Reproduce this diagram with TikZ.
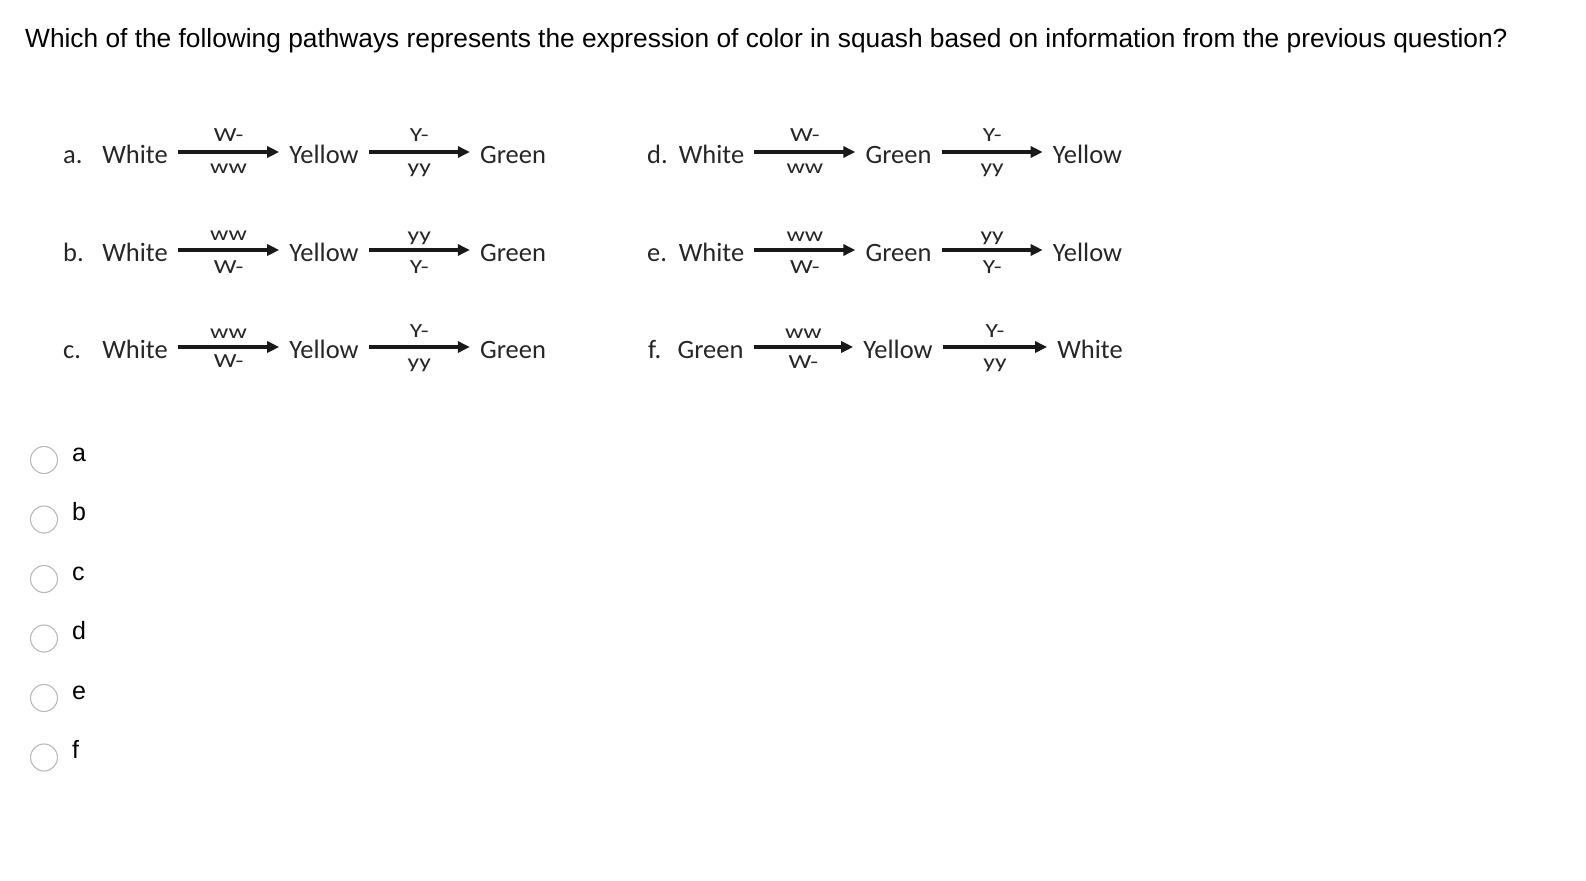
\documentclass[tikz,border=0pt]{standalone}
\usepackage{fontspec}
\setmainfont{Liberation Sans}
\newfontfamily\calfont{Carlito}
\usetikzlibrary{arrows.meta}
\tikzset{
  word/.style={font=\calfont\fontsize{26.5}{30}\selectfont, text=black!85, anchor=base,
    inner xsep=10pt, inner ysep=0pt, text height=22pt, text depth=0pt},
  rowlab/.style={font=\calfont\fontsize{26.5}{30}\selectfont, text=black!85, anchor=base west, inner sep=0pt},
  lab/.style={font=\calfont\fontsize{20}{22}\selectfont, text=black!85, anchor=base, inner sep=0pt},
  arr/.style={line width=3.4pt, black!90, -{Triangle[length=12pt,width=11pt]}},
  radio/.style={circle, draw=gray!55, line width=1.1pt, fill=white, minimum size=27pt, inner sep=0pt},
  opt/.style={font=\fontsize{25}{28}\selectfont, anchor=base west, inner sep=0pt},
  title/.style={font=\fontsize{26.3}{30}\selectfont, anchor=base west, inner sep=0pt}
}
\newcommand{\lb}[1]{\scalebox{1.28}[1]{#1}}
\begin{document}
\begin{tikzpicture}[x=1pt,y=-1pt]
\useasboundingbox (0,0) rectangle (1586,880);
\node[title] (q) at (25,48) {Which of the following pathways represents the expression of color in squash based on information from the previous question?};

% row a
\node[rowlab] (la) at (63,163) {a.};
\node[word] (a1) at (135,163) {White};
\node[word] (a2) at (324,163) {Yellow};
\node[word] (a3) at (513,163) {Green};
\draw[arr] (a1) -- node[lab,yshift=10pt]{\lb{W-}} node[lab,yshift=-21pt]{\lb{ww}} (a2);
\draw[arr] (a2) -- node[lab,yshift=10pt]{\lb{Y-}} node[lab,yshift=-21pt]{\lb{yy}} (a3);

% row b
\node[rowlab] (lb) at (63,261) {b.};
\node[word] (b1) at (135,261) {White};
\node[word] (b2) at (324,261) {Yellow};
\node[word] (b3) at (513,261) {Green};
\draw[arr] (b1) -- node[lab,yshift=10pt]{\lb{ww}} node[lab,yshift=-23pt]{\lb{W-}} (b2);
\draw[arr] (b2) -- node[lab,yshift=8.5pt]{\lb{yy}} node[lab,yshift=-23pt]{\lb{Y-}} (b3);

% row c
\node[rowlab] (lc) at (63,358) {c.};
\node[word] (c1) at (135,358) {White};
\node[word] (c2) at (324,358) {Yellow};
\node[word] (c3) at (513,358) {Green};
\draw[arr] (c1) -- node[lab,yshift=9pt]{\lb{ww}} node[lab,yshift=-20pt]{\lb{W-}} (c2);
\draw[arr] (c2) -- node[lab,yshift=10pt]{\lb{Y-}} node[lab,yshift=-21pt]{\lb{yy}} (c3);

% row d
\node[rowlab] (ld) at (647,163) {d.};
\node[word] (d1) at (711.5,163) {White};
\node[word] (d2) at (898.5,163) {Green};
\node[word] (d3) at (1087.5,163) {Yellow};
\draw[arr] (d1) -- node[lab,yshift=10pt]{\lb{W-}} node[lab,yshift=-21pt]{\lb{ww}} (d2);
\draw[arr] (d2) -- node[lab,yshift=10pt]{\lb{Y-}} node[lab,yshift=-21pt]{\lb{yy}} (d3);

% row e
\node[rowlab] (le) at (647,261) {e.};
\node[word] (e1) at (711.5,261) {White};
\node[word] (e2) at (898.5,261) {Green};
\node[word] (e3) at (1087.5,261) {Yellow};
\draw[arr] (e1) -- node[lab,yshift=9pt]{\lb{ww}} node[lab,yshift=-23pt]{\lb{W-}} (e2);
\draw[arr] (e2) -- node[lab,yshift=8.5pt]{\lb{yy}} node[lab,yshift=-23pt]{\lb{Y-}} (e3);

% row f
\node[rowlab] (lf) at (648,358) {f.};
\node[word] (f1) at (710.5,358) {Green};
\node[word] (f2) at (898,358) {Yellow};
\node[word] (f3) at (1090,358) {White};
\draw[arr] (f1) -- node[lab,yshift=9pt]{\lb{ww}} node[lab,yshift=-21pt]{\lb{W-}} (f2);
\draw[arr] (f2) -- node[lab,yshift=10pt]{\lb{Y-}} node[lab,yshift=-21pt]{\lb{yy}} (f3);

% answer options
\foreach \t/\yy [count=\i] in {a/460,b/519.5,c/579,d/638.5,e/698,f/757.5}{
  \node[radio] (r\i) at (44,\yy) {};
  \node[opt] (o\i) at (72,\yy+1) {\t};
}
\end{tikzpicture}
\end{document}
